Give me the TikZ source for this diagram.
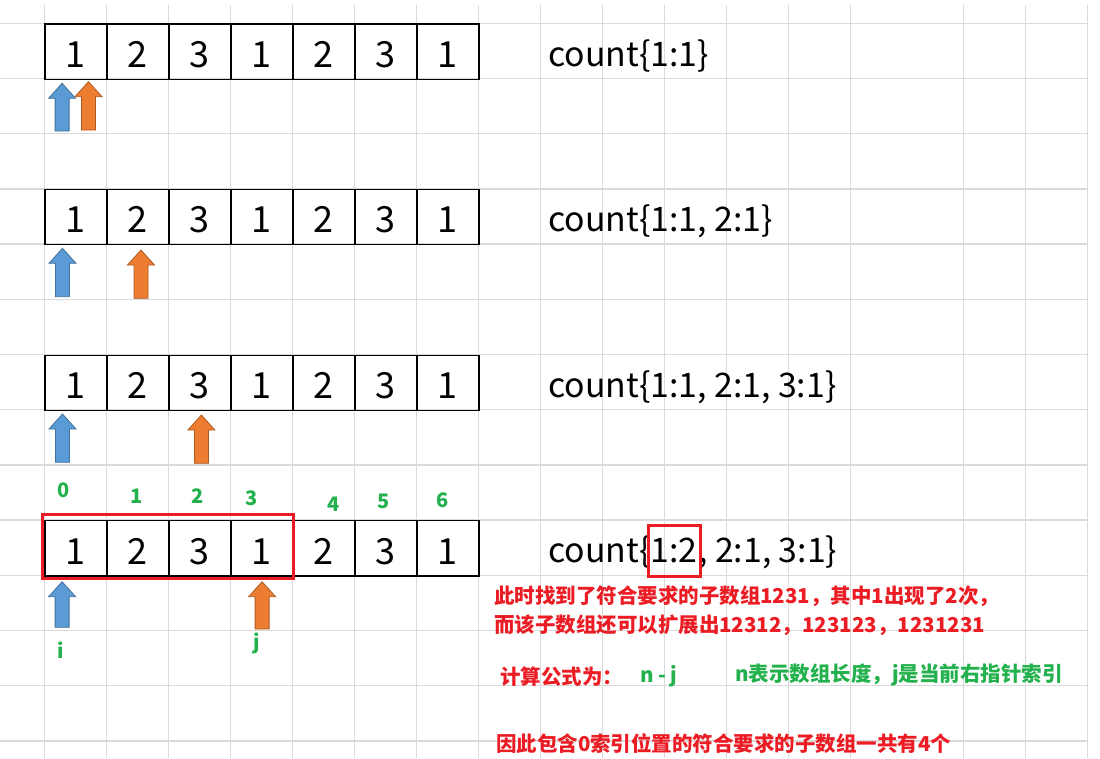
\documentclass[tikz,border=0pt]{standalone}
\usepackage{fontspec}
\setmainfont{Noto Sans CJK SC}
\usetikzlibrary{calc}
\definecolor{gridc}{RGB}{218,218,218}
\definecolor{pblue}{RGB}{91,155,213}
\definecolor{pblueD}{RGB}{65,113,156}
\definecolor{porange}{RGB}{237,125,49}
\definecolor{porangeD}{RGB}{174,90,33}
\definecolor{tred}{RGB}{236,28,36}
\definecolor{tgreen}{RGB}{34,177,76}
\newcommand\myarrow[5]{%
  \filldraw[fill=#4, draw=#5, line width=0.8pt]
    (#1,#2) -- (#1+13.5,#2+15) -- (#1+7,#2+15) -- (#1+7,#3) -- (#1-7,#3)
    -- (#1-7,#2+15) -- (#1-13.5,#2+15) -- cycle;}
\tikzset{
  gridline/.style={draw=gridc, line width=1.3pt},
  cell/.style={draw=black, line width=1.3pt, minimum width=62pt, minimum height=55.2pt,
    inner sep=0pt, text height=31.6pt, text depth=0pt,
    font=\fontsize{36}{40}\selectfont},
  ctext/.style={anchor=base west, inner sep=0pt, font=\fontsize{33.8}{38}\selectfont},
  idx/.style={text=tgreen, font=\bfseries\fontsize{20}{24}\selectfont, inner sep=0pt},
  rtext/.style={anchor=west, inner sep=0pt, text=tred, font=\bfseries\fontsize{20.5}{24}\selectfont},
  gtext/.style={anchor=west, inner sep=0pt, text=tgreen, font=\bfseries\fontsize{20.5}{24}\selectfont},
  redbox/.style={draw=tred, line width=3pt},
}
\begin{document}
\begin{tikzpicture}[x=1pt,y=-1pt]
\useasboundingbox (0,0) rectangle (1100,758);
\fill[white] (0,0) rectangle (1100,758);
% grid
\foreach \k in {0,...,13}
  \draw[gridline] (0,{23.3+55.2*\k}) -- (1087.3,{23.3+55.2*\k});
\foreach \x in {44.3,106.3,168.3,230.3,292.3,354.3,416.3,478.3,540.3,602.3,664.3,726.3,788.3,850.3,963.3,1025.3,1087.3}
  \draw[gridline] (\x,5) -- (\x,758);
% cells
\foreach \r/\ty in {1/23.3,2/188.9,3/354.5,4/520.1}{
  \foreach \v [count=\c] in {1,2,3,1,2,3,1}{
    \node[cell, anchor=north west] (r\r c\c) at ({44.3+62*(\c-1)},\ty) {\v};
  }
}
% counts
\node[ctext] (cnt1) at (548,66) {count\{1:1\}};
\node[ctext] (cnt2) at (548,231.6) {count\{1:1, 2:1\}};
\node[ctext] (cnt3) at (548,397.2) {count\{1:1, 2:1, 3:1\}};
\node[ctext] (cnt4a) at (548,562.8) {count\{};
\node[ctext] (cnt4b) at (cnt4a.base east) {1:2};
\node[ctext] (cnt4c) at (cnt4b.base east) {, 2:1, 3:1\}};
\draw[redbox] ($(cnt4b.base west)+(-2.5,-37.8)$) rectangle ($(cnt4b.base east)+(2.5,13.2)$);
% red window
\draw[redbox] ([xshift=-2.3pt,yshift=6pt]r4c1.north west) rectangle ([yshift=-2pt]r4c4.south east);
% arrows
\myarrow{62.1}{83.3}{131}{pblue}{pblueD}
\myarrow{88.5}{81.7}{130}{porange}{porangeD}
\myarrow{62.5}{248.3}{296.7}{pblue}{pblueD}
\myarrow{141}{250}{298.3}{porange}{porangeD}
\myarrow{62.5}{414}{462.3}{pblue}{pblueD}
\myarrow{201.4}{415}{463.3}{porange}{porangeD}
\myarrow{62.1}{581.7}{627.3}{pblue}{pblueD}
\myarrow{262.1}{581.7}{629}{porange}{porangeD}
% indices
\node[idx] (i0) at (64,490.7) {0};
\node[idx] (i1) at (136.4,496.7) {1};
\node[idx] (i2) at (197.6,496.3) {2};
\node[idx] (i3) at (251.8,498.3) {3};
\node[idx] (i4) at (333.2,504.3) {4};
\node[idx] (i5) at (383.4,501.7) {5};
\node[idx] (i6) at (442.7,500.7) {6};
\node[idx] (li) at (60.3,650) {i};
\node[idx] (lj) at (257,643.3) {j};
% notes
\node[rtext] (t1) at (493.8,596.7) {此时找到了符合要求的子数组1231，其中1出现了2次，};
\node[rtext] (t2) at (493.8,625) {而该子数组还可以扩展出12312，123123，1231231};
\node[rtext] (t3) at (499.8,676.7) {计算公式为：};
\node[gtext] (t4) at (640,676.7) {n - j};
\node[gtext] (t5) at (735,675) {n表示数组长度，j是当前右指针索引};
\node[rtext] (t6) at (495.8,743.3) {因此包含0索引位置的符合要求的子数组一共有4个};
\end{tikzpicture}
\end{document}
